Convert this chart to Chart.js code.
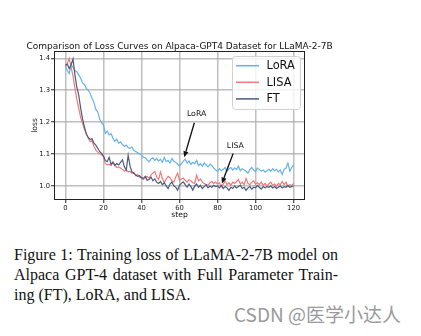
<!DOCTYPE html>
<html>
<head>
<meta charset="utf-8">
<script src="https://cdn.jsdelivr.net/npm/chart.js@4.4.1/dist/chart.umd.min.js"></script>
<style>
  html, body { margin:0; padding:0; background:#fff; width:421px; height:336px; overflow:hidden; }
  #wrap { position:absolute; left:0; top:0; width:421px; height:230px; }
  .cap { position:absolute; left:14px; font-family:"Liberation Serif","Times New Roman",serif; font-size:16px; color:#111; white-space:nowrap; line-height:1; }
  .just { width:324px; text-align:justify; text-align-last:justify; }
  #wm { position:absolute; left:234px; top:304px; font-family:"Noto Sans CJK SC","Noto Sans",sans-serif; font-size:19px; color:#9a9a9a; white-space:nowrap; line-height:1; }
</style>
</head>
<body>
<div id="wrap"><canvas id="c" width="421" height="230"></canvas></div>
<div class="cap just" style="top:247px">Figure 1: Training loss of LLaMA-2-7B model on</div>
<div class="cap just" style="top:267px">Alpaca GPT-4 dataset with Full Parameter Train-</div>
<div class="cap" style="top:287px">ing (FT), LoRA, and LISA.</div>
<div id="wm">CSDN @医学小达人</div>
<script>
const chartTitle = "Comparison of Loss Curves on Alpaca-GPT4 Dataset for LLaMA-2-7B";
const xLabel = "step";
const yLabel = "loss";
const seriesNames = ["LoRA", "LISA", "FT"];
const xTicks = [0, 20, 40, 60, 80, 100, 120];
const yTicks = [1.0, 1.1, 1.2, 1.3, 1.4];
const steps = Array.from({length: 121}, (_, i) => i);

const lora = [
1.375,1.362,1.352,1.380,1.372,1.362,1.358,1.348,1.338,1.322,
1.318,1.306,1.300,1.290,1.276,1.262,1.240,1.232,1.210,1.198,
1.192,1.165,1.172,1.160,1.164,1.150,1.140,1.146,1.134,1.138,
1.130,1.124,1.128,1.120,1.118,1.122,1.112,1.108,1.104,1.100,
1.097,1.090,1.088,1.082,1.076,1.085,1.088,1.080,1.086,1.078,
1.084,1.074,1.090,1.076,1.080,1.072,1.086,1.078,1.074,1.068,
1.062,1.070,1.078,1.084,1.072,1.078,1.068,1.074,1.070,1.080,
1.064,1.070,1.062,1.072,1.066,1.060,1.068,1.064,1.056,1.050,
1.046,1.054,1.048,1.052,1.058,1.046,1.054,1.058,1.050,1.056,
1.052,1.062,1.048,1.054,1.050,1.046,1.040,1.052,1.058,1.050,
1.046,1.056,1.052,1.046,1.050,1.044,1.048,1.052,1.046,1.054,
1.048,1.052,1.044,1.050,1.036,1.052,1.056,1.072,1.046,1.058,
1.066];

const lisa = [
1.372,1.385,1.400,1.372,1.345,1.306,1.272,1.243,1.215,1.196,
1.178,1.165,1.150,1.139,1.142,1.125,1.112,1.106,1.102,1.098,
1.092,1.070,1.066,1.068,1.064,1.076,1.066,1.058,1.060,1.056,
1.052,1.046,1.050,1.044,1.046,1.040,1.042,1.032,1.036,1.028,
1.024,1.020,1.026,1.030,1.024,1.034,1.040,1.046,1.028,1.020,
1.044,1.024,1.010,1.022,1.030,1.026,1.016,1.012,1.028,1.040,
1.018,1.022,1.024,1.018,1.012,1.020,1.016,1.010,1.008,1.034,
1.016,1.022,1.012,1.008,1.004,1.002,1.010,1.014,1.008,1.012,
1.006,1.010,0.998,1.006,1.016,1.004,1.010,1.002,1.012,1.008,
1.014,1.020,1.006,1.012,1.004,1.024,1.008,1.004,1.012,1.016,
1.006,1.010,1.004,1.012,1.002,1.008,1.000,1.006,1.012,1.002,
1.006,0.998,1.008,1.004,1.014,1.004,1.012,0.998,1.004,1.002,
1.008];

const ft = [
1.378,1.382,1.368,1.380,1.398,1.348,1.310,1.285,1.245,1.210,
1.185,1.162,1.152,1.146,1.148,1.134,1.128,1.118,1.108,1.102,
1.094,1.080,1.076,1.090,1.068,1.074,1.064,1.070,1.066,1.074,
1.082,1.060,1.050,1.096,1.062,1.044,1.040,1.034,1.030,1.032,
1.026,1.024,1.030,1.018,1.020,1.028,1.016,1.022,1.012,1.008,
1.014,1.004,1.010,1.000,0.992,1.006,1.012,1.000,0.996,0.987,
1.002,1.008,1.013,1.004,0.996,1.006,0.998,0.987,1.000,1.006,
0.996,1.002,0.992,0.998,1.004,0.994,1.000,0.996,1.002,0.998,
1.000,0.994,1.002,0.992,0.998,0.994,0.986,0.996,0.992,1.000,
0.994,0.998,1.002,0.992,0.996,0.986,0.994,0.998,0.990,0.996,
0.994,1.002,0.996,0.990,0.998,0.994,0.998,0.996,1.000,0.994,
0.998,0.992,0.996,1.000,0.994,0.998,0.996,1.002,0.996,0.998,
1.000];

// annotations: [label, text step, text loss, arrow tail step, tail loss, tip step, tip loss]
const annotations = [
  ["LoRA", 69.0, 1.225, 67.8, 1.198, 62.5, 1.090],
  ["LISA", 89.4, 1.126, 88.2, 1.102, 82.3, 1.008]
];

const colors = ["#66b3ea", "#f07a7a", "#4b5b7d"];
const FONT = "'DejaVu Sans', sans-serif";

const deco = {
  id: 'deco',
  afterDatasetsDraw(chart) {
    const {ctx, chartArea: a, scales: {x, y}} = chart;
    ctx.save();
    ctx.strokeStyle = '#222';
    ctx.lineWidth = 1;
    ctx.strokeRect(Math.round(a.left) + 0.5, Math.round(a.top) + 0.5,
                   Math.round(a.right - a.left) - 1, Math.round(a.bottom - a.top) - 1);
    annotations.forEach(([t, tx, ty, ax, ay, bx, by]) => {
      ctx.fillStyle = '#111';
      ctx.font = "7.8px " + FONT;
      ctx.textAlign = 'center';
      ctx.textBaseline = 'middle';
      ctx.fillText(t, x.getPixelForValue(tx), y.getPixelForValue(ty));
      const x0 = x.getPixelForValue(ax), y0 = y.getPixelForValue(ay);
      const x1 = x.getPixelForValue(bx), y1 = y.getPixelForValue(by);
      const ang = Math.atan2(y1 - y0, x1 - x0);
      const hl = 6, hw = 2.6;
      const bxp = x1 - hl * Math.cos(ang), byp = y1 - hl * Math.sin(ang);
      ctx.strokeStyle = '#111';
      ctx.lineWidth = 1.3;
      ctx.beginPath(); ctx.moveTo(x0, y0); ctx.lineTo(bxp, byp); ctx.stroke();
      ctx.beginPath();
      ctx.moveTo(x1, y1);
      ctx.lineTo(bxp + hw * Math.sin(ang), byp - hw * Math.cos(ang));
      ctx.lineTo(bxp - hw * Math.sin(ang), byp + hw * Math.cos(ang));
      ctx.closePath(); ctx.fill();
    });
    const lx = 232, ly = 56, lw = 68, lh = 53, r = 3;
    ctx.beginPath();
    ctx.roundRect(lx + 0.5, ly + 0.5, lw, lh, r);
    ctx.fillStyle = 'rgba(255,255,255,0.82)';
    ctx.fill();
    ctx.strokeStyle = '#d2d2d2';
    ctx.lineWidth = 1;
    ctx.stroke();
    chart.data.datasets.forEach((ds, i) => {
      const yy = 65.7 + i * 16.6;
      ctx.strokeStyle = ds.borderColor;
      ctx.lineWidth = 1.5;
      ctx.beginPath(); ctx.moveTo(236, yy); ctx.lineTo(259, yy); ctx.stroke();
      ctx.fillStyle = '#111';
      ctx.font = "11.4px " + FONT;
      ctx.textAlign = 'left';
      ctx.textBaseline = 'middle';
      ctx.fillText(ds.label, 266.5, yy + 0.5);
    });
    ctx.fillStyle = '#111';
    ctx.font = "9.0px " + FONT;
    ctx.textAlign = 'center';
    ctx.textBaseline = 'alphabetic';
    ctx.fillText(chartTitle, (a.left + a.right) / 2, 49);
    ctx.font = "7.6px " + FONT;
    ctx.textBaseline = 'middle';
    ctx.fillText(xLabel, (a.left + a.right) / 2, 215);
    ctx.save();
    ctx.translate(35.5, (a.top + a.bottom) / 2);
    ctx.rotate(-Math.PI / 2);
    ctx.fillText(yLabel, 0, 0);
    ctx.restore();
    ctx.restore();
  }
};

const mk = (arr) => steps.map((s, i) => ({x: s, y: arr[i]}));

new Chart(document.getElementById('c'), {
  type: 'line',
  data: {
    datasets: [
      {label: seriesNames[0], data: mk(lora), borderColor: colors[0], order: 2},
      {label: seriesNames[1], data: mk(lisa), borderColor: colors[1], order: 1},
      {label: seriesNames[2], data: mk(ft), borderColor: colors[2], order: 0}
    ].map(d => Object.assign(d, {borderWidth: 1.2, pointRadius: 0, tension: 0, fill: false}))
  },
  options: {
    responsive: false,
    animation: false,
    devicePixelRatio: 1,
    layout: {padding: {left: 0, top: 51, right: 116, bottom: 0}},
    plugins: {legend: {display: false}, title: {display: false}, tooltip: {enabled: false}},
    scales: {
      x: {
        type: 'linear', min: -6, max: 126,
        afterFit: s => { s.height = 30; },
        afterBuildTicks: s => { s.ticks = xTicks.map(v => ({value: v})); },
        grid: {color: 'rgba(170,170,170,0.75)', lineWidth: 1.5, tickLength: 3, tickColor: '#222', tickWidth: 1},
        border: {display: false},
        ticks: {font: {family: FONT, size: 6.8}, color: '#222', padding: 1, maxRotation: 0,
                callback: v => String(v)}
      },
      y: {
        type: 'linear', min: 0.956, max: 1.423,
        afterFit: s => { s.width = 54; },
        afterBuildTicks: s => { s.ticks = yTicks.map(v => ({value: v})); },
        grid: {color: 'rgba(170,170,170,0.75)', lineWidth: 1.5, tickLength: 3, tickColor: '#222', tickWidth: 1},
        border: {display: false},
        ticks: {font: {family: FONT, size: 6.8}, color: '#222', padding: 1,
                callback: v => v.toFixed(1)}
      }
    }
  },
  plugins: [deco]
});
</script>
</body>
</html>
